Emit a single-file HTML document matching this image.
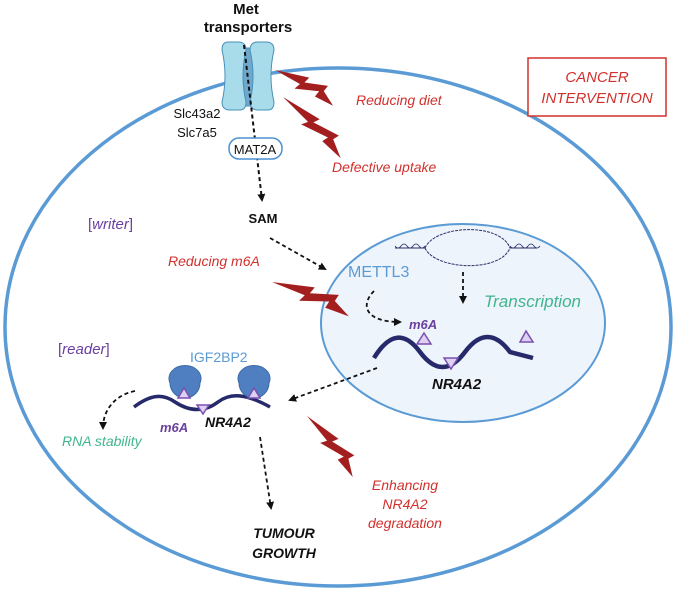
<!DOCTYPE html>
<html><head><meta charset="utf-8"><style>
html,body{margin:0;padding:0;background:#fff}
svg{display:block;font-family:"Liberation Sans",sans-serif}
</style></head><body>
<svg width="685" height="591" viewBox="0 0 685 591" xmlns="http://www.w3.org/2000/svg">
<defs>
<marker id="ah" markerWidth="8" markerHeight="8" refX="6" refY="4" orient="auto" markerUnits="userSpaceOnUse">
<path d="M0,0 L8,4 L0,8 z" fill="#111"/></marker>
<polygon id="bolt" points="0,0 0.5,-8 0.47,-2 0.8,-9 0.78,-3 1,5 0.7,5 0.72,-1 0.38,7 0.42,1"/>
</defs>
<ellipse cx="338" cy="327" rx="333" ry="259" fill="#fff" stroke="#5b9bd5" stroke-width="3.5"/>
<ellipse cx="463" cy="323" rx="142" ry="99" fill="#eef4fb" stroke="#5b9bd5" stroke-width="2"/>
<rect x="528" y="58" width="138" height="58" fill="#fff" stroke="#d0312d" stroke-width="1.5"/>
<text x="597" y="82" font-size="15" font-style="italic" fill="#d0312d" text-anchor="middle">CANCER</text>
<text x="597" y="103" font-size="15" font-style="italic" fill="#d0312d" text-anchor="middle">INTERVENTION</text>
<!-- transporter -->
<rect x="239" y="48" width="18" height="58" fill="#6fa8cc" stroke="#4a90b8" stroke-width="1"/>
<path d="M228,42 Q222,42 222,50 Q228,76 222,102 Q222,110 230,110 L240,110 Q246,110 246,102 Q240,76 246,50 Q246,42 238,42 Z" fill="#a8dcea" stroke="#4a90b8" stroke-width="1"/>
<path d="M258,42 Q250,42 250,50 Q256,76 250,102 Q250,110 258,110 L268,110 Q274,110 274,102 Q268,76 274,50 Q274,42 266,42 Z" fill="#a8dcea" stroke="#4a90b8" stroke-width="1"/>
<text x="246" y="14" font-size="15" font-weight="bold" text-anchor="middle" fill="#111">Met</text>
<text x="248" y="32" font-size="15" font-weight="bold" text-anchor="middle" fill="#111">transporters</text>
<line x1="244" y1="45" x2="262" y2="200" stroke="#111" stroke-width="2" stroke-dasharray="4,3" marker-end="url(#ah)"/>
<rect x="229" y="138" width="53" height="21" rx="10" fill="#fff" stroke="#4a90d0" stroke-width="1.5"/>
<text x="255" y="154" font-size="13" text-anchor="middle" fill="#111">MAT2A</text>
<text x="197" y="118" font-size="13" text-anchor="middle" fill="#111">Slc43a2</text>
<text x="197" y="137" font-size="13" text-anchor="middle" fill="#111">Slc7a5</text>
<text x="263" y="223" font-size="13" font-weight="bold" text-anchor="middle" fill="#111">SAM</text>
<!-- bolts -->
<g fill="#a31f1f">
<use href="#bolt" transform="translate(275,70) rotate(27) scale(68,1.1)"/>
<use href="#bolt" transform="translate(283,97) rotate(43) scale(84,1.1)"/>
<use href="#bolt" transform="translate(272,282) rotate(20) scale(84,1.2)"/>
<use href="#bolt" transform="translate(307,416) rotate(49) scale(76,1.1)"/>
</g>
<g font-size="14" font-style="italic" fill="#d0312d">
<text x="356" y="105">Reducing diet</text>
<text x="332" y="172">Defective uptake</text>
<text x="168" y="266">Reducing m6A</text>
<text x="405" y="490" text-anchor="middle">Enhancing</text>
<text x="405" y="509" text-anchor="middle">NR4A2</text>
<text x="405" y="528" text-anchor="middle">degradation</text>
</g>
<text x="88" y="229" font-size="15" fill="#6a3fa0">[<tspan font-style="italic">writer</tspan>]</text>
<text x="58" y="354" font-size="15" fill="#6a3fa0">[<tspan font-style="italic">reader</tspan>]</text>
<line x1="270" y1="238" x2="325" y2="269" stroke="#111" stroke-width="1.8" stroke-dasharray="4,3" marker-end="url(#ah)"/>
<text x="348" y="277" font-size="16" fill="#5b9bd5">METTL3</text>
<!-- DNA -->
<g fill="none" stroke="#2a2f6a" stroke-width="1">
<path d="M395,248 L425,248 M510,248 L537,248"/>
<path d="M425,248 C435,225 500,222 510,248" stroke-dasharray="3,1"/>
<path d="M425,248 C435,270 500,273 510,248" stroke-dasharray="3,1"/>
<path d="M395,246 q3,4 6,0 t6,0 t6,0 t6,0 t6,0 M510,246 q3,4 6,0 t6,0 t6,0 t6,0 t6,0" stroke-width="0.8"/>
</g>
<line x1="463" y1="272" x2="463" y2="302" stroke="#111" stroke-width="1.8" stroke-dasharray="4,3" marker-end="url(#ah)"/>
<text x="484" y="307" font-size="17" font-style="italic" fill="#3fb58e">Transcription</text>
<path d="M374,291 C360,305 365,322 400,322" fill="none" stroke="#111" stroke-width="1.8" stroke-dasharray="4,3" marker-end="url(#ah)"/>
<text x="409" y="329" font-size="13" font-weight="bold" font-style="italic" fill="#6a3fa0">m6A</text>
<!-- nucleus RNA -->
<path d="M374,358 C390,332 405,332 420,352 C435,372 450,372 465,352 C480,332 495,332 510,352 L533,358" fill="none" stroke="#262a6a" stroke-width="4.5"/>
<g fill="#ddd0f0" stroke="#7a50b0" stroke-width="1.5">
<polygon points="417,344 431,344 424,333"/>
<polygon points="444,358 458,358 451,369"/>
<polygon points="520,342 533,342 526,331"/>
</g>
<text x="432" y="389" font-size="15" font-weight="bold" font-style="italic" fill="#111">NR4A2</text>
<line x1="377" y1="368" x2="290" y2="400" stroke="#111" stroke-width="1.8" stroke-dasharray="4,3" marker-end="url(#ah)"/>
<!-- cytoplasm RNA -->
<text x="190" y="362" font-size="14" fill="#5b9bd5">IGF2BP2</text>
<path d="M134,407 C150,395 162,393 175,402 C190,412 205,412 218,402 C230,393 245,393 270,407" fill="none" stroke="#262a6a" stroke-width="3.5"/>
<g fill="#4f7fc0" stroke="#3a6aa8">
<path d="M170,383 a16,13 0 1,1 30,0 a6,6 0 0,1 -30,0 z"/>
<path d="M239,383 a16,13 0 1,1 30,0 a6,6 0 0,1 -30,0 z"/>
</g>
<g fill="#ddd0f0" stroke="#7a50b0" stroke-width="1.5">
<polygon points="178,398 190,398 184,388"/>
<polygon points="248,398 260,398 254,388"/>
<polygon points="197,405 209,405 203,414"/>
</g>
<text x="160" y="432" font-size="13" font-weight="bold" font-style="italic" fill="#6a3fa0">m6A</text>
<text x="205" y="427" font-size="14" font-weight="bold" font-style="italic" fill="#111">NR4A2</text>
<path d="M135,391 C115,395 103,410 103,428" fill="none" stroke="#111" stroke-width="1.8" stroke-dasharray="4,3" marker-end="url(#ah)"/>
<text x="62" y="446" font-size="14" font-style="italic" fill="#3fb58e">RNA stability</text>
<line x1="260" y1="437" x2="271" y2="508" stroke="#111" stroke-width="1.8" stroke-dasharray="4,3" marker-end="url(#ah)"/>
<text x="284" y="538" font-size="14" font-weight="bold" font-style="italic" fill="#111" text-anchor="middle">TUMOUR</text>
<text x="284" y="558" font-size="14" font-weight="bold" font-style="italic" fill="#111" text-anchor="middle">GROWTH</text>
</svg>
</body></html>
